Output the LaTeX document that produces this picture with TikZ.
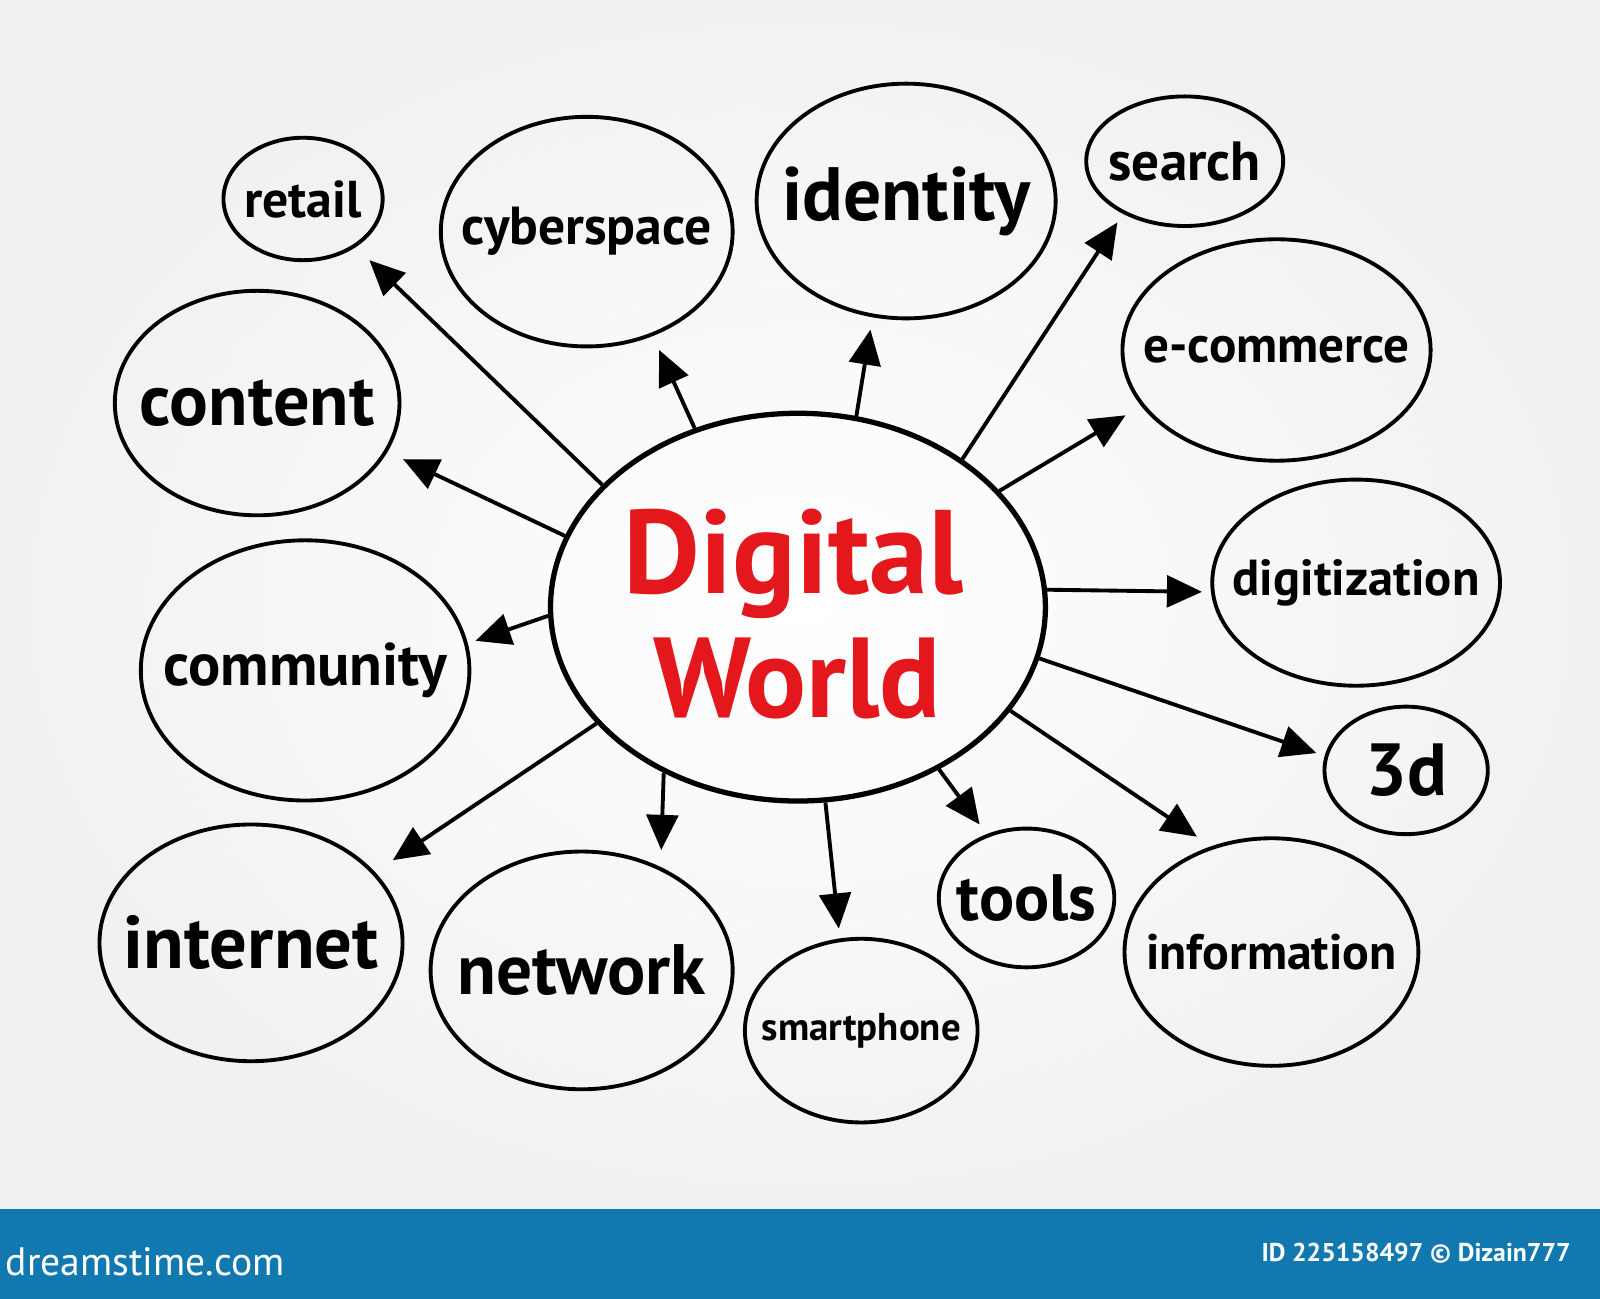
\documentclass[tikz,border=0pt]{standalone}
\usepackage{graphicx}
\usepackage{fontspec}
\setmainfont{PT Sans}
\usetikzlibrary{shapes.geometric,arrows.meta}
\newlength{\pxu}\setlength{\pxu}{0.010204cm}
\definecolor{dwred}{RGB}{228,24,28}
\definecolor{bannerblue}{RGB}{17,120,176}
\newcommand{\lbl}[2]{\resizebox{#1\pxu}{!}{\bfseries #2}}
\begin{document}
\begin{tikzpicture}[x=0.010204cm,y=-0.010204cm,
  bub/.style={draw=black, line width=1.1pt, ellipse, inner sep=0pt},
  arr/.style={draw=black, line width=1.1pt, -{Triangle[length=10pt,width=9pt]}},
  wtxt/.style={text=white, inner sep=0pt}]
\useasboundingbox (0,0) rectangle (1568,1273);
\shade[inner color=white, outer color=gray!11] (0,0) rectangle (1568,1185);
\fill[bannerblue] (0,1185) rectangle (1568,1273);

% central node
\node[bub, line width=1.5pt, minimum width={485*\pxu}, minimum height={380*\pxu}] (dw) at (782,595) {};
\node[text=dwred, inner sep=0pt] (dwt1) at (778,553) {\lbl{333}{Digital}};
\node[text=dwred, inner sep=0pt] (dwt2) at (781,665) {\lbl{282}{World}};

% bubbles
\node[bub, minimum width={156*\pxu}, minimum height={120*\pxu}, label={center:\lbl{115}{retail}}] (retail) at (297,195) {};
\node[bub, minimum width={286*\pxu}, minimum height={225*\pxu}, label={center:\lbl{245}{cyberspace}}] (cyber) at (575,227) {};
\node[bub, minimum width={293*\pxu}, minimum height={230*\pxu}, label={center:\lbl{243}{identity}}] (ident) at (888,197) {};
\node[bub, minimum width={193*\pxu}, minimum height={127*\pxu}, label={center:\lbl{149}{search}}] (search) at (1161,158) {};
\node[bub, minimum width={302*\pxu}, minimum height={217*\pxu}, label={center:\lbl{261}{e-commerce}}] (ecom) at (1251,343) {};
\node[bub, minimum width={279*\pxu}, minimum height={220*\pxu}, label={center:\lbl{230}{content}}] (content) at (252,395) {};
\node[bub, minimum width={282*\pxu}, minimum height={202*\pxu}, label={center:\lbl{242}{digitization}}] (digit) at (1329,571) {};
\node[bub, minimum width={322*\pxu}, minimum height={255*\pxu}, label={center:\lbl{278}{community}}] (commu) at (299,657) {};
\node[bub, minimum width={160*\pxu}, minimum height={125*\pxu}, label={center:\lbl{80}{3d}}] (td) at (1378,755) {};
\node[bub, minimum width={297*\pxu}, minimum height={232*\pxu}, label={center:\lbl{250}{internet}}] (inet) at (246,924) {};
\node[bub, minimum width={296*\pxu}, minimum height={233*\pxu}, label={center:\lbl{243}{network}}] (netw) at (570,951) {};
\node[bub, minimum width={228*\pxu}, minimum height={180*\pxu}, label={center:\lbl{195}{smartphone}}] (smart) at (844,1010) {};
\node[bub, minimum width={172*\pxu}, minimum height={136*\pxu}, label={center:\lbl{137}{tools}}] (tools) at (1006,880) {};
\node[bub, minimum width={288*\pxu}, minimum height={223*\pxu}, label={center:\lbl{245}{information}}] (info) at (1246,933) {};

% arrow tips
\coordinate (t-retail) at (362,255);
\coordinate (t-cyber) at (646,343);
\coordinate (t-ident) at (853,323);
\coordinate (t-search) at (1095,218);
\coordinate (t-ecom) at (1103,407);
\coordinate (t-content) at (395,450);
\coordinate (t-commu) at (466,628);
\coordinate (t-digit) at (1178,580);
\coordinate (t-td) at (1290,738);
\coordinate (t-inet) at (385,843);
\coordinate (t-netw) at (648,833);
\coordinate (t-smart) at (822,910);
\coordinate (t-tools) at (960,808);
\coordinate (t-info) at (1173,820);

\draw[arr] (dw.148.9) -- (t-retail);
\draw[arr] (dw.120.9) -- (t-cyber);
\draw[arr] (dw.73) -- (t-ident);
\draw[arr] (dw.42.7) -- (t-search);
\draw[arr] (dw.30) -- (t-ecom);
\draw[arr] (dw.163.5) -- (t-content);
\draw[arr] (dw.182.4) -- (t-commu);
\draw[arr] (dw.4) -- (t-digit);
\draw[arr] (dw.-12) -- (t-td);
\draw[arr] (dw.210.7) -- (t-inet);
\draw[arr] (dw.231.6) -- (t-netw);
\draw[arr] (dw.278.2) -- (t-smart);
\draw[arr] (dw.311.7) -- (t-tools);
\draw[arr] (dw.334.8) -- (t-info);

% banner texts
\node[wtxt, anchor=west] (brand) at (5,1236) {\resizebox{273\pxu}{!}{dreamstime.com}};
\node[wtxt, anchor=east] (imgid) at (1540,1228) {\resizebox{303\pxu}{!}{\bfseries ID 225158497 © Dizain777}};
\end{tikzpicture}
\end{document}
